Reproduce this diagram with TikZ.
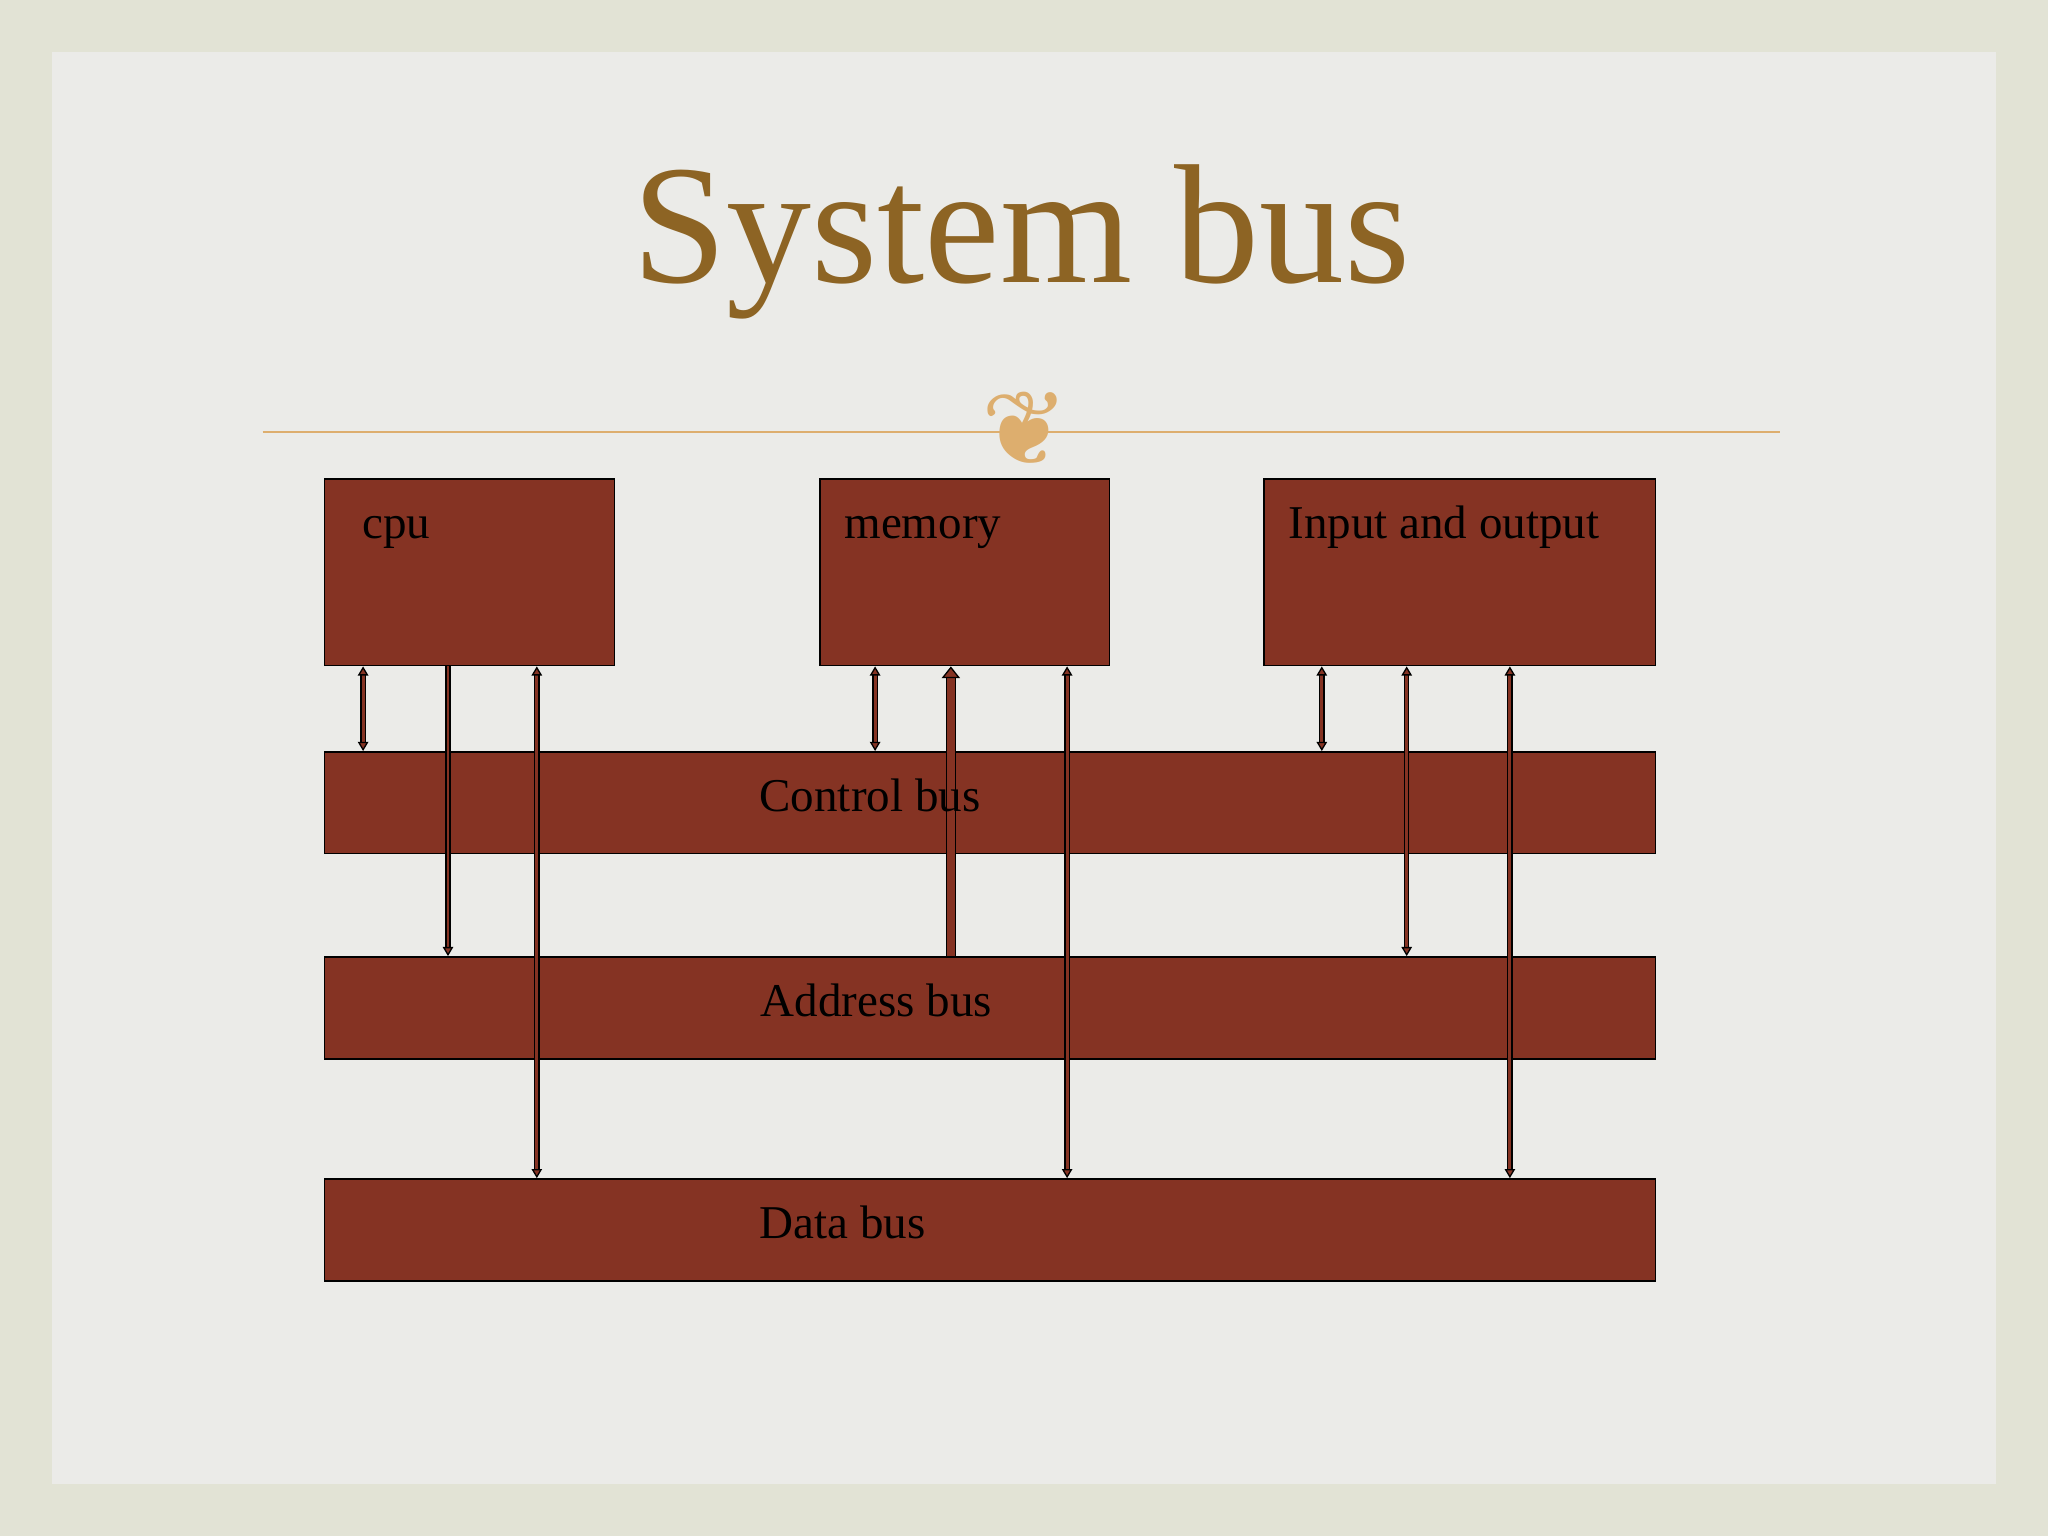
\documentclass[tikz,border=0pt]{standalone}
\usepackage{fontspec}
\setmainfont{Liberation Serif}
\newfontfamily\orn{DejaVu Sans}
\usetikzlibrary{arrows.meta}
\definecolor{bx}{HTML}{853323}
\definecolor{ttl}{HTML}{8D6424}
\definecolor{rule}{HTML}{DDAE6E}
\definecolor{bgo}{HTML}{E2E3D5}
\definecolor{bgi}{HTML}{EBEBE8}
\tikzset{
 box/.style={draw=black,fill=bx,line width=1.2pt,inner sep=0pt},
 lbl/.style={font=\fontsize{36}{40}\selectfont,text=black,anchor=base west},
 busar/.style={line width=1pt,>={Triangle[length=7pt,width=8pt,fill=bx]},draw=black,double=bx,double distance=2.2pt},
 both/.style={busar,<->},
 down/.style={busar,->},
 up/.style={busar,<-},
}
\begin{document}
\begin{tikzpicture}[x=1pt,y=-1pt]
\fill[bgo] (0,0) rectangle (1568,1176);
\fill[bgi] (40,40) rectangle (1528,1136);
\useasboundingbox (0,0) rectangle (1568,1176);
\node[font=\fontsize{130}{130}\selectfont,text=ttl,anchor=base] (title) at (782,216) {System bus};
\draw[rule,line width=1.5pt] (201,331) -- (1363,331);
\node[text=rule,font=\orn\fontsize{80}{80}\selectfont] (orn) at (785,328) {❦};
\node[box,minimum width=222pt,minimum height=143pt,anchor=north west] (cpu) at (248,366) {};
\node[box,minimum width=222pt,minimum height=143pt,anchor=north west] (mem) at (627,366) {};
\node[box,minimum width=300pt,minimum height=143pt,anchor=north west] (io) at (967,366) {};
\node[box,minimum width=1019pt,minimum height=78pt,anchor=north west] (ctrl) at (248,575) {};
\node[box,minimum width=1019pt,minimum height=78pt,anchor=north west] (addr) at (248,732) {};
\node[box,minimum width=1019pt,minimum height=78pt,anchor=north west] (data) at (248,902) {};
\node[lbl] at (274,412) {cpu};
\node[lbl] at (643,412) {memory};
\node[lbl] at (983,412) {Input and output};
\foreach \x/\a/\b/\st in {278/cpu/ctrl/both,343/cpu/addr/down,411/cpu/data/both,670/mem/ctrl/both,817/mem/data/both,1012/io/ctrl/both,1077/io/addr/both,1156/io/data/both}{
 \draw[\st] (\a.south -| \x,0) -- (\b.north -| \x,0);
}
\draw[busar,<-,double distance=6pt,>={Triangle[length=9pt,width=14pt,fill=bx]}] (mem.south -| 728,0) -- (addr.north -| 728,0);
\node[lbl] at (578,621) {Control bus};
\node[lbl] at (579,778) {Address bus};
\node[lbl] at (578,948) {Data bus};
\end{tikzpicture}
\end{document}
